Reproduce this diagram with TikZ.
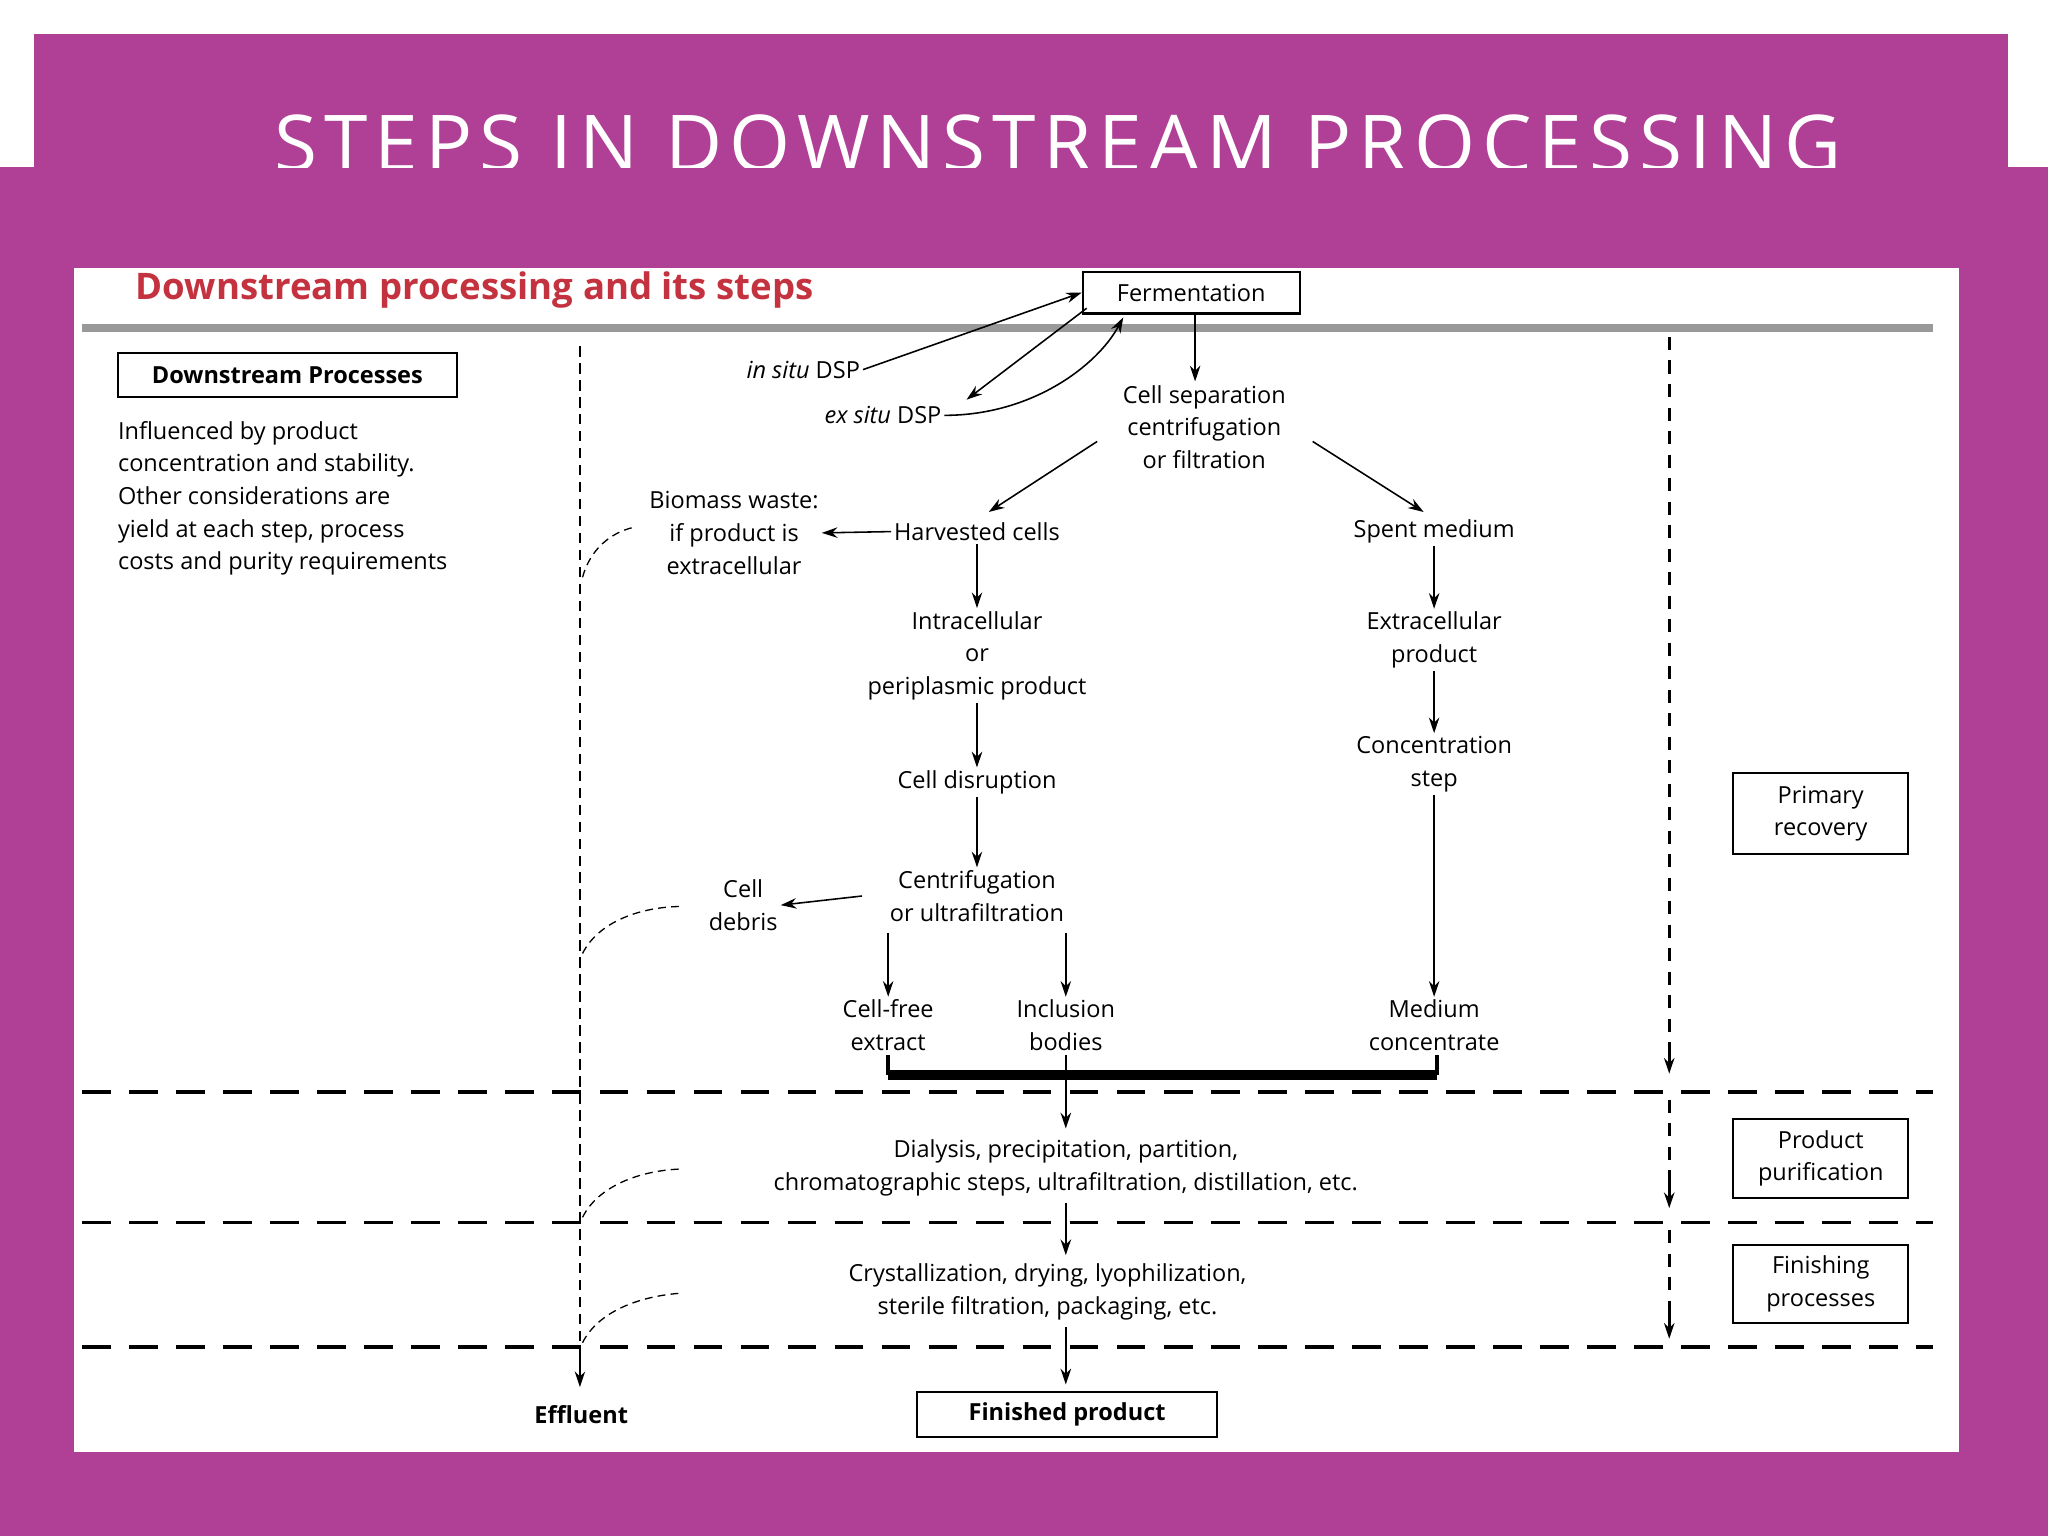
\documentclass[tikz,border=0pt]{standalone}
\usepackage{fontspec}
\setmainfont{Open Sans}
\usetikzlibrary{arrows.meta}
\definecolor{purp}{HTML}{B03F96}
\definecolor{redt}{HTML}{C4323F}
\begin{document}
\begin{tikzpicture}[x=0.5pt,y=-0.5pt,
  txt/.style={font=\fontsize{9}{12.5}\selectfont,align=center,inner sep=1pt},
  arr/.style={-{Stealth[length=6pt,width=4pt]},line width=0.6pt},
  bx/.style={draw,line width=0.8pt,font=\fontsize{9}{12.5}\selectfont,align=center},
  hdash/.style={line width=1.5pt,dash pattern=on 11pt off 7pt},
  vdash/.style={line width=1.3pt,dash pattern=on 5pt off 4pt},
  thin dash/.style={line width=0.5pt,dash pattern=on 3pt off 2pt}]
\useasboundingbox (0,0) rectangle (1568,1176);
\fill[white] (0,0) rectangle (1568,1176);
\fill[purp] (26,26) rectangle (1537,128);
\fill[purp] (0,128) rectangle (1568,1176);
\begin{scope}
\clip (0,0) rectangle (1568,128);
\node[anchor=base,text=white,inner sep=0,font=\fontsize{30}{30}\selectfont\addfontfeature{LetterSpace=9}] (title) at (810,131) {STEPS IN DOWNSTREAM PROCESSING};
\end{scope}
\fill[white] (57,205) rectangle (1500,1112);
\node[anchor=west,text=redt,font=\fontsize{14}{14}\bfseries\selectfont] (rt) at (97,222) {Downstream processing and its steps};
\draw[line width=3pt,gray!80] (63,251) -- (1480,251);
% nodes
\node[bx,fill=white,minimum width=83pt,minimum height=16pt] (ferm) at (912,224) {Fermentation};
\node[txt] (insitu) at (615,283) {\textit{in situ} DSP};
\node[txt] (exsitu) at (676,318) {\textit{ex situ} DSP};
\node[txt] (cellsep) at (922,327) {Cell separation\\centrifugation\\or filtration};
\node[txt] (harv) at (748,407) {Harvested cells};
\node[txt] (bio) at (562,408) {Biomass waste:\\if product is\\extracellular};
\node[txt] (spent) at (1098,407) {Spent medium};
\node[txt] (intra) at (748,502) {Intracellular\\or\\periplasmic product};
\node[txt] (extra) at (1098,490) {Extracellular\\product};
\node[txt] (conc) at (1098,585) {Concentration\\step};
\node[txt] (disr) at (748,599) {Cell disruption};
\node[txt] (centr) at (748,686) {Centrifugation\\or ultrafiltration};
\node[txt] (debris) at (569,693) {Cell\\debris};
\node[txt] (free) at (680,785) {Cell-free\\extract};
\node[txt] (incl) at (816,785) {Inclusion\\bodies};
\node[txt] (medc) at (1098,785) {Medium\\concentrate};
\node[txt] (dial) at (816,894) {Dialysis, precipitation, partition,\\chromatographic steps, ultrafiltration, distillation, etc.};
\node[txt] (cryst) at (802,989) {Crystallization, drying, lyophilization,\\sterile filtration, packaging, etc.};
\node[txt,font=\fontsize{9}{12}\bfseries\selectfont] (eff) at (445,1083) {Effluent};
\node[bx,font=\fontsize{9}{12}\bfseries\selectfont,minimum width=115pt,minimum height=17pt] (fin) at (817,1083) {Finished product};
\node[bx,font=\fontsize{9}{12}\bfseries\selectfont,minimum width=130pt,minimum height=17pt] (dsp) at (220,287) {Downstream Processes};
\node[txt,align=left,anchor=north west] (infl) at (88,320) {Influenced by product\\concentration and stability.\\Other considerations are\\yield at each step, process\\costs and purity requirements};
\node[bx,minimum width=67pt,minimum height=31pt] (prim) at (1394,623) {Primary\\recovery};
\node[bx,minimum width=67pt,minimum height=30pt,inner sep=1pt] (pur) at (1394,887) {Product\\purification};
\node[bx,minimum width=67pt,minimum height=30pt] (finp) at (1394,983) {Finishing\\processes};
% coordinates
\coordinate (barL) at (680,823); \coordinate (barR) at (1100,823); \coordinate (barM) at (816,823);
\coordinate (dl1) at (63,836); \coordinate (dr1) at (1480,836);
\coordinate (dl2) at (63,936); \coordinate (dr2) at (1480,936);
\coordinate (dl3) at (63,1031); \coordinate (dr3) at (1480,1031);
\coordinate (vt) at (444,265); \coordinate (vb) at (444,1062);
% dashed lines
\draw[hdash] (dl1) -- (dr1);
\draw[hdash] (dl2) -- (dr2);
\draw[hdash] (dl3) -- (dr3);
\draw[vdash,line width=0.7pt,dash pattern=on 4pt off 2.5pt] (vt) -- (444,1045);
\draw[arr] (444,1040) -- (vb);
\draw[vdash] (1278,258) -- (1278,805); \draw[arr,line width=1.2pt] (1278,800) -- (1278,822);
\draw[vdash] (1278,842) -- (1278,908); \draw[arr,line width=1.2pt] (1278,903) -- (1278,925);
\draw[vdash] (1278,942) -- (1278,1008); \draw[arr,line width=1.2pt] (1278,1003) -- (1278,1025);
% curved dashed side lines
\draw[thin dash] (446,442) .. controls (452,420) and (468,408) .. (484,404);
\draw[thin dash] (446,730) .. controls (458,706) and (490,694) .. (523,694);
\draw[thin dash] (446,932) .. controls (458,908) and (490,896) .. (522,895);
\draw[thin dash] (446,1028) .. controls (458,1004) and (490,992) .. (523,990);
% arrows
\draw[arr] (insitu.east) -- (ferm.west);
\draw[arr] (832,236) -- (740,306);
\draw[arr] (exsitu.east) .. controls (790,318) and (840,280) .. (860,243);
\draw[arr] (915,240) -- (915,292);
\draw[arr] (840,338) -- (757,392);
\draw[arr] (1005,338) -- (1090,392);
\draw[arr] (harv.west) -- (bio.east);
\draw[arr] (harv.south) -- (intra.north);
\draw[arr] (intra.south) -- (disr.north);
\draw[arr] (disr.south) -- (centr.north);
\draw[arr] (660,686) -- (debris.east);
\draw[arr] (680,714) -- (free.north);
\draw[arr] (816,714) -- (incl.north);
\draw[arr] (spent.south) -- (extra.north);
\draw[arr] (extra.south) -- (conc.north);
\draw[arr] (conc.south) -- (medc.north);
\draw[line width=3.5pt] (barL) -- (barR);
\draw[line width=1.5pt] (680,808) -- (barL);
\draw[line width=1.5pt] (1100,808) -- (barR);
\draw[line width=0.8pt] (816,808) -- (barM);
\draw[arr,line width=1pt] (barM) -- (816,864);
\draw[arr,line width=1pt] (816,921) -- (816,961);
\draw[arr,line width=1pt] (816,1016) -- (816,1060);
\end{tikzpicture}
\end{document}
